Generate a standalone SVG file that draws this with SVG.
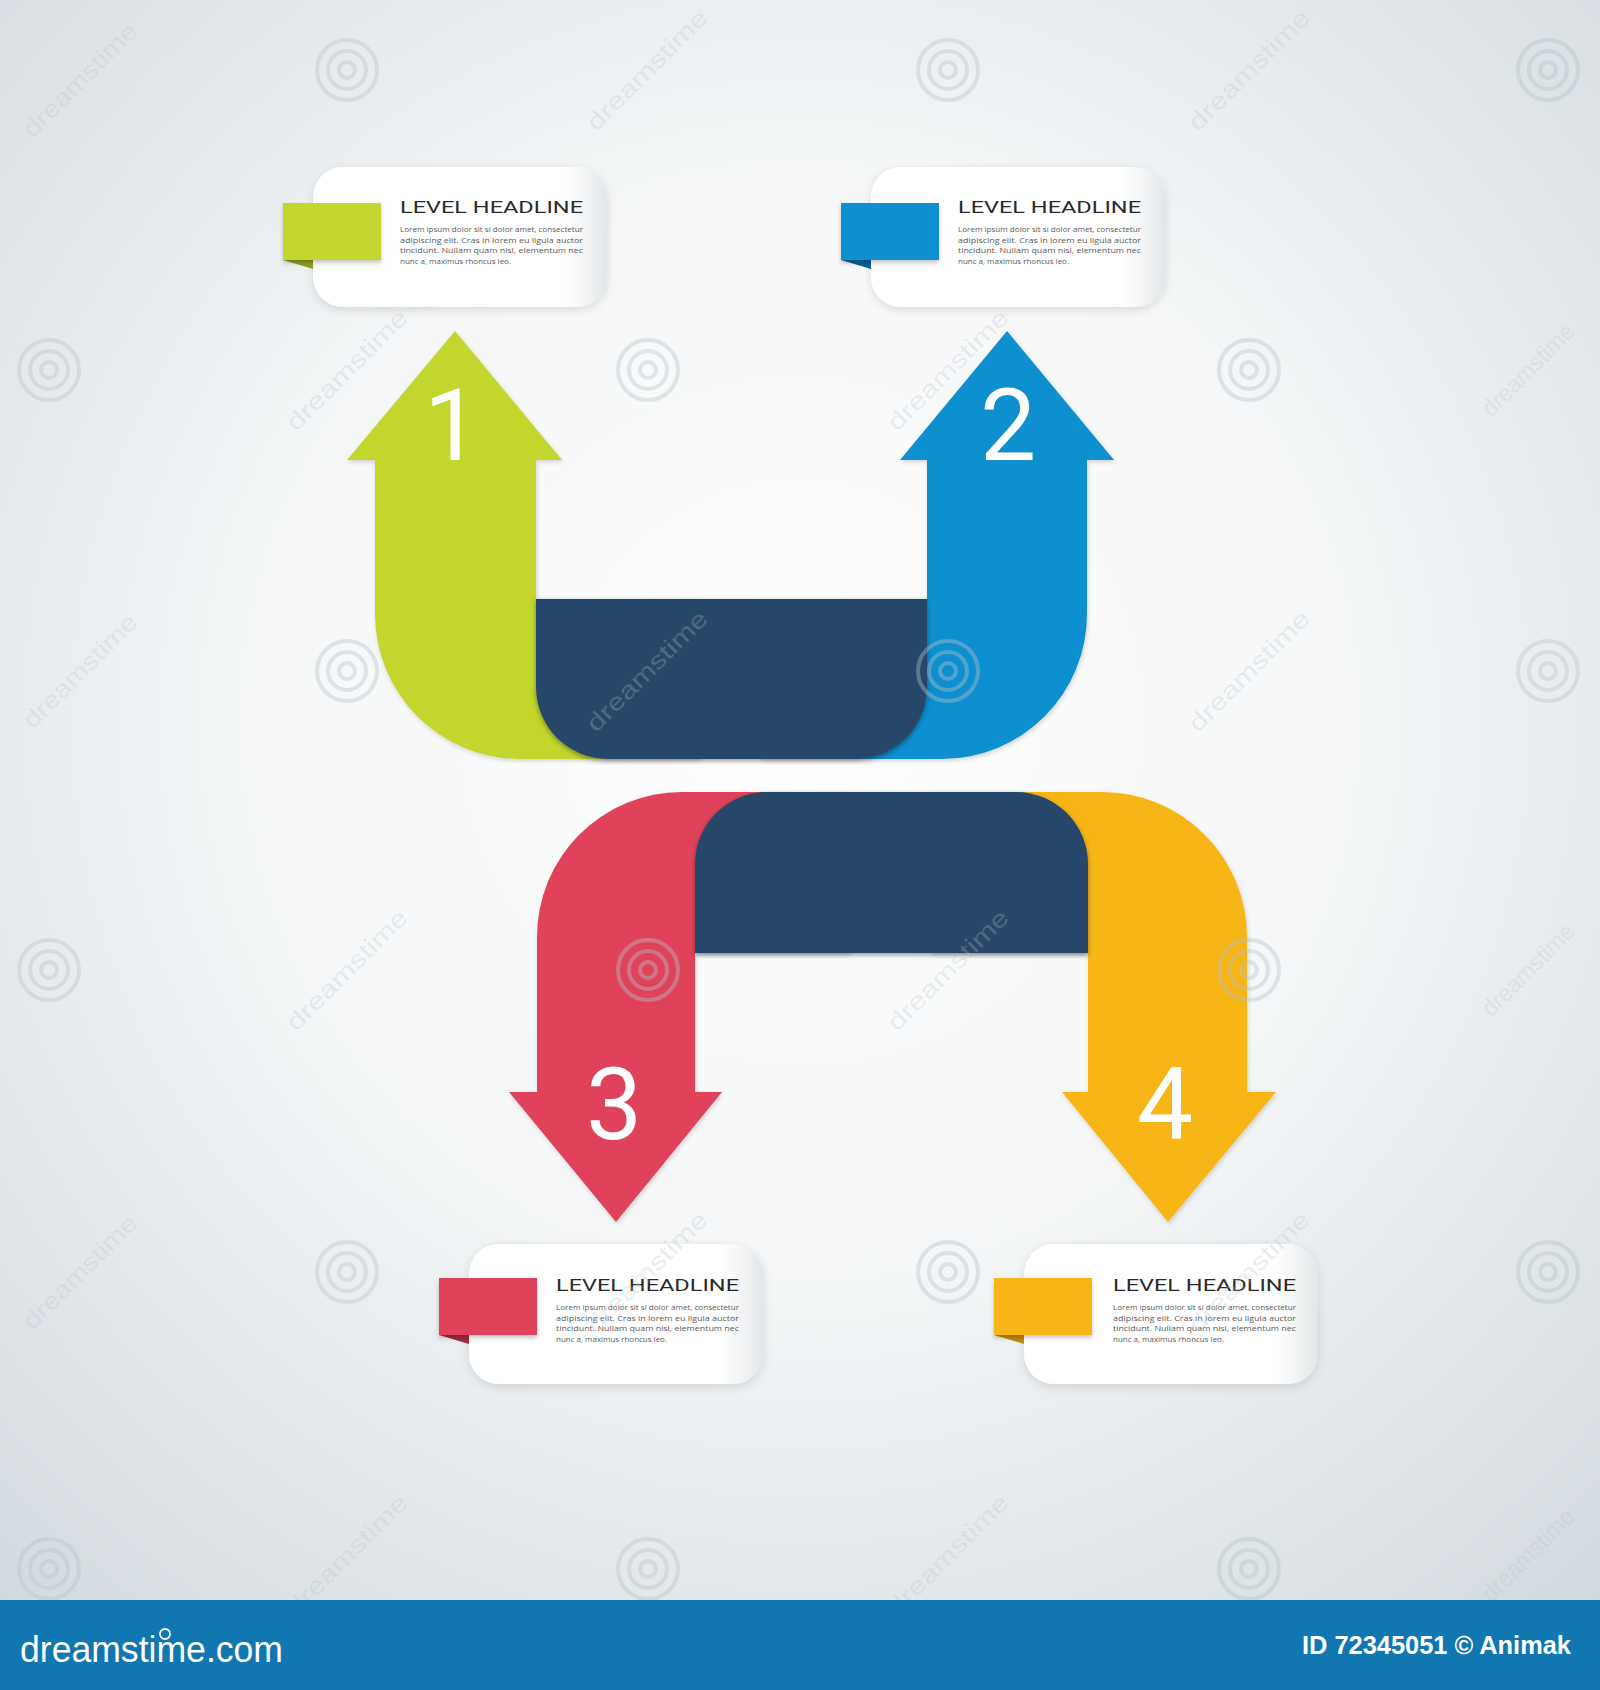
<svg xmlns="http://www.w3.org/2000/svg" width="1600" height="1690" viewBox="0 0 1600 1690">
<style>
.head{font-family:Roboto,"Liberation Sans",sans-serif;font-size:17px;fill:#2a2a2a}
.body{font-family:"Open Sans","Liberation Sans",sans-serif;font-size:8px;fill:#5a5a5a}
.digit{font-family:Roboto,"Liberation Sans",sans-serif;font-size:100px;font-weight:400;fill:#ffffff;text-anchor:middle}
.wm{font-family:"Liberation Sans",sans-serif;font-size:24px;fill:#b9c2c8;fill-opacity:0.3;text-anchor:middle}
.sp{fill:none;stroke:#b9c2c8;stroke-opacity:0.4;stroke-width:4}
</style>
<defs>
<radialGradient id="bg" cx="50%" cy="45%" r="75%">
<stop offset="0" stop-color="#ffffff"/>
<stop offset="0.45" stop-color="#f4f6f7"/>
<stop offset="1" stop-color="#d3dadf"/>
</radialGradient>
<linearGradient id="card" x1="0" y1="0" x2="1" y2="0">
<stop offset="0" stop-color="#ffffff"/>
<stop offset="0.86" stop-color="#ffffff"/>
<stop offset="1" stop-color="#e3e6e8"/>
</linearGradient>
<filter id="arrowSh" x="-10%" y="-10%" width="120%" height="120%">
<feDropShadow dx="1" dy="2" stdDeviation="2" flood-color="#000" flood-opacity="0.16"/>
</filter>
<filter id="navySh" x="-10%" y="-10%" width="120%" height="130%">
<feDropShadow dx="0" dy="2" stdDeviation="2.5" flood-color="#000" flood-opacity="0.4"/>
</filter>
<filter id="cardSh" x="-10%" y="-10%" width="120%" height="130%">
<feDropShadow dx="0" dy="3" stdDeviation="5" flood-color="#000" flood-opacity="0.12"/>
</filter>
<filter id="ribSh" x="-10%" y="-10%" width="120%" height="140%">
<feDropShadow dx="0" dy="3" stdDeviation="2" flood-color="#000" flood-opacity="0.22"/>
</filter>
</defs>

<rect x="0" y="0" width="1600" height="1600" fill="url(#bg)"/>

<g id="connectors">
<g id="upper-u">
<path id="arrow1" filter="url(#arrowSh)" fill="#c3d62f" d="M455,331 L562,460 L536,460 L536,599 L700,599 L700,759 L520,759 A145,145 0 0 1 375,614 L375,460 L347,460 Z"/>
<path id="arrow2" filter="url(#arrowSh)" fill="#0b8fd0" d="M1007,331 L1114,460 L1087,460 L1087,614 A145,145 0 0 1 942,759 L760,759 L760,599 L927,599 L927,460 L900,460 Z"/>
<path id="band-upper" filter="url(#navySh)" fill="#25466a" d="M536,599 L927,599 L927,687 A72,72 0 0 1 855,759 L608,759 A72,72 0 0 1 536,687 Z"/>
</g>
<g id="lower-u">
<path id="arrow3" filter="url(#arrowSh)" fill="#e0435b" d="M616,1222 L509,1092 L537,1092 L537,937 A145,145 0 0 1 682,792 L850,792 L850,953 L695,953 L695,1092 L722,1092 Z"/>
<path id="arrow4" filter="url(#arrowSh)" fill="#f8b519" d="M1168,1222 L1276,1092 L1247,1092 L1247,937 A145,145 0 0 0 1102,792 L930,792 L930,953 L1088,953 L1088,1092 L1062,1092 Z"/>
<path id="band-lower" filter="url(#navySh)" fill="#25466a" d="M695,953 L695,864 A72,72 0 0 1 767,792 L1016,792 A72,72 0 0 1 1088,864 L1088,953 Z"/>
</g>
</g>

<g id="digits">
<text class="digit" x="452" y="460">1</text>
<text class="digit" x="1008" y="460">2</text>
<text class="digit" x="614" y="1139">3</text>
<text class="digit" x="1165" y="1139">4</text>
</g>

<g id="node1">
<rect x="313" y="167" width="294" height="140" rx="30" fill="url(#card)" filter="url(#cardSh)"/>
<polygon points="283,260 313,260 313,269" fill="#8e9e1d"/>
<rect x="283" y="203" width="98" height="57" fill="#c3d62f" filter="url(#ribSh)"/>
<text class="head" x="400" y="213" textLength="183" lengthAdjust="spacingAndGlyphs">LEVEL HEADLINE</text>
<text class="body" x="400" y="232" textLength="183" lengthAdjust="spacingAndGlyphs">Lorem ipsum dolor sit si dolor amet, consectetur</text>
<text class="body" x="400" y="242.7" textLength="183" lengthAdjust="spacingAndGlyphs">adipiscing elit. Cras in lorem eu ligula auctor</text>
<text class="body" x="400" y="253.3" textLength="183" lengthAdjust="spacingAndGlyphs">tincidunt. Nullam quam nisl, elementum nec</text>
<text class="body" x="400" y="264" textLength="111" lengthAdjust="spacingAndGlyphs">nunc a, maximus rhoncus leo.</text>
</g>

<g id="node2">
<rect x="871" y="167" width="294" height="140" rx="30" fill="url(#card)" filter="url(#cardSh)"/>
<polygon points="841,260 871,260 871,269" fill="#06639a"/>
<rect x="841" y="203" width="98" height="57" fill="#0b8fd0" filter="url(#ribSh)"/>
<text class="head" x="958" y="213" textLength="183" lengthAdjust="spacingAndGlyphs">LEVEL HEADLINE</text>
<text class="body" x="958" y="232" textLength="183" lengthAdjust="spacingAndGlyphs">Lorem ipsum dolor sit si dolor amet, consectetur</text>
<text class="body" x="958" y="242.7" textLength="183" lengthAdjust="spacingAndGlyphs">adipiscing elit. Cras in lorem eu ligula auctor</text>
<text class="body" x="958" y="253.3" textLength="183" lengthAdjust="spacingAndGlyphs">tincidunt. Nullam quam nisl, elementum nec</text>
<text class="body" x="958" y="264" textLength="111" lengthAdjust="spacingAndGlyphs">nunc a, maximus rhoncus leo.</text>
</g>

<g id="node3">
<rect x="469" y="1244" width="294" height="140" rx="30" fill="url(#card)" filter="url(#cardSh)"/>
<polygon points="439,1335 469,1335 469,1344" fill="#a8283e"/>
<rect x="439" y="1278" width="98" height="57" fill="#e0435b" filter="url(#ribSh)"/>
<text class="head" x="556" y="1291" textLength="183" lengthAdjust="spacingAndGlyphs">LEVEL HEADLINE</text>
<text class="body" x="556" y="1310" textLength="183" lengthAdjust="spacingAndGlyphs">Lorem ipsum dolor sit si dolor amet, consectetur</text>
<text class="body" x="556" y="1320.7" textLength="183" lengthAdjust="spacingAndGlyphs">adipiscing elit. Cras in lorem eu ligula auctor</text>
<text class="body" x="556" y="1331.3" textLength="183" lengthAdjust="spacingAndGlyphs">tincidunt. Nullam quam nisl, elementum nec</text>
<text class="body" x="556" y="1342" textLength="111" lengthAdjust="spacingAndGlyphs">nunc a, maximus rhoncus leo.</text>
</g>

<g id="node4">
<rect x="1024" y="1244" width="294" height="140" rx="30" fill="url(#card)" filter="url(#cardSh)"/>
<polygon points="994,1335 1024,1335 1024,1344" fill="#c88a0b"/>
<rect x="994" y="1278" width="98" height="57" fill="#f8b519" filter="url(#ribSh)"/>
<text class="head" x="1113" y="1291" textLength="183" lengthAdjust="spacingAndGlyphs">LEVEL HEADLINE</text>
<text class="body" x="1113" y="1310" textLength="183" lengthAdjust="spacingAndGlyphs">Lorem ipsum dolor sit si dolor amet, consectetur</text>
<text class="body" x="1113" y="1320.7" textLength="183" lengthAdjust="spacingAndGlyphs">adipiscing elit. Cras in lorem eu ligula auctor</text>
<text class="body" x="1113" y="1331.3" textLength="183" lengthAdjust="spacingAndGlyphs">tincidunt. Nullam quam nisl, elementum nec</text>
<text class="body" x="1113" y="1342" textLength="111" lengthAdjust="spacingAndGlyphs">nunc a, maximus rhoncus leo.</text>
</g>

<g id="watermark">
<g id="spirals">
<g transform="translate(347,70)"><circle class="sp" r="30"/><circle class="sp" r="19"/><circle class="sp" r="8"/></g>
<g transform="translate(948,70)"><circle class="sp" r="30"/><circle class="sp" r="19"/><circle class="sp" r="8"/></g>
<g transform="translate(1548,70)"><circle class="sp" r="30"/><circle class="sp" r="19"/><circle class="sp" r="8"/></g>
<g transform="translate(49,370)"><circle class="sp" r="30"/><circle class="sp" r="19"/><circle class="sp" r="8"/></g>
<g transform="translate(648,370)"><circle class="sp" r="30"/><circle class="sp" r="19"/><circle class="sp" r="8"/></g>
<g transform="translate(1249,370)"><circle class="sp" r="30"/><circle class="sp" r="19"/><circle class="sp" r="8"/></g>
<g transform="translate(347,671)"><circle class="sp" r="30"/><circle class="sp" r="19"/><circle class="sp" r="8"/></g>
<g transform="translate(948,671)"><circle class="sp" r="30"/><circle class="sp" r="19"/><circle class="sp" r="8"/></g>
<g transform="translate(1548,671)"><circle class="sp" r="30"/><circle class="sp" r="19"/><circle class="sp" r="8"/></g>
<g transform="translate(49,970)"><circle class="sp" r="30"/><circle class="sp" r="19"/><circle class="sp" r="8"/></g>
<g transform="translate(648,970)"><circle class="sp" r="30"/><circle class="sp" r="19"/><circle class="sp" r="8"/></g>
<g transform="translate(1249,970)"><circle class="sp" r="30"/><circle class="sp" r="19"/><circle class="sp" r="8"/></g>
<g transform="translate(347,1272)"><circle class="sp" r="30"/><circle class="sp" r="19"/><circle class="sp" r="8"/></g>
<g transform="translate(948,1272)"><circle class="sp" r="30"/><circle class="sp" r="19"/><circle class="sp" r="8"/></g>
<g transform="translate(1548,1272)"><circle class="sp" r="30"/><circle class="sp" r="19"/><circle class="sp" r="8"/></g>
<g transform="translate(49,1569)"><circle class="sp" r="30"/><circle class="sp" r="19"/><circle class="sp" r="8"/></g>
<g transform="translate(648,1569)"><circle class="sp" r="30"/><circle class="sp" r="19"/><circle class="sp" r="8"/></g>
<g transform="translate(1249,1569)"><circle class="sp" r="30"/><circle class="sp" r="19"/><circle class="sp" r="8"/></g>
</g>
<g id="wm-text">
<text class="wm" transform="translate(80,80) rotate(-45)" y="8" textLength="150" lengthAdjust="spacingAndGlyphs">dreamstime</text>
<text class="wm" transform="translate(647,70) rotate(-45)" y="8" textLength="160" lengthAdjust="spacingAndGlyphs">dreamstime</text>
<text class="wm" transform="translate(1249,70) rotate(-45)" y="8" textLength="160" lengthAdjust="spacingAndGlyphs">dreamstime</text>
<text class="wm" transform="translate(347,370) rotate(-45)" y="8" textLength="160" lengthAdjust="spacingAndGlyphs">dreamstime</text>
<text class="wm" transform="translate(948,370) rotate(-45)" y="8" textLength="160" lengthAdjust="spacingAndGlyphs">dreamstime</text>
<text class="wm" transform="translate(1528,370) rotate(-45)" y="8" textLength="120" lengthAdjust="spacingAndGlyphs">dreamstime</text>
<text class="wm" transform="translate(80,671) rotate(-45)" y="8" textLength="150" lengthAdjust="spacingAndGlyphs">dreamstime</text>
<text class="wm" transform="translate(647,671) rotate(-45)" y="8" textLength="160" lengthAdjust="spacingAndGlyphs">dreamstime</text>
<text class="wm" transform="translate(1249,671) rotate(-45)" y="8" textLength="160" lengthAdjust="spacingAndGlyphs">dreamstime</text>
<text class="wm" transform="translate(347,970) rotate(-45)" y="8" textLength="160" lengthAdjust="spacingAndGlyphs">dreamstime</text>
<text class="wm" transform="translate(948,970) rotate(-45)" y="8" textLength="160" lengthAdjust="spacingAndGlyphs">dreamstime</text>
<text class="wm" transform="translate(1528,970) rotate(-45)" y="8" textLength="120" lengthAdjust="spacingAndGlyphs">dreamstime</text>
<text class="wm" transform="translate(80,1272) rotate(-45)" y="8" textLength="150" lengthAdjust="spacingAndGlyphs">dreamstime</text>
<text class="wm" transform="translate(647,1272) rotate(-45)" y="8" textLength="160" lengthAdjust="spacingAndGlyphs">dreamstime</text>
<text class="wm" transform="translate(1249,1272) rotate(-45)" y="8" textLength="160" lengthAdjust="spacingAndGlyphs">dreamstime</text>
<text class="wm" transform="translate(347,1555) rotate(-45)" y="8" textLength="160" lengthAdjust="spacingAndGlyphs">dreamstime</text>
<text class="wm" transform="translate(948,1555) rotate(-45)" y="8" textLength="160" lengthAdjust="spacingAndGlyphs">dreamstime</text>
<text class="wm" transform="translate(1528,1555) rotate(-45)" y="8" textLength="120" lengthAdjust="spacingAndGlyphs">dreamstime</text>
</g>
</g>

<g id="footer">
<rect x="0" y="1600" width="1600" height="90" fill="#1077b0"/>
<circle cx="165" cy="1634" r="5" fill="none" stroke="#ffffff" stroke-width="1.8"/>
<text x="20" y="1662" font-family="'Liberation Sans',sans-serif" font-size="36" fill="#ffffff" textLength="263" lengthAdjust="spacingAndGlyphs">dreamstime.com</text>
<text x="1571" y="1654" font-family="'Liberation Sans',sans-serif" font-size="25" font-weight="bold" fill="#ffffff" text-anchor="end" textLength="269" lengthAdjust="spacingAndGlyphs">ID 72345051 © Animak</text>
</g>
</svg>
